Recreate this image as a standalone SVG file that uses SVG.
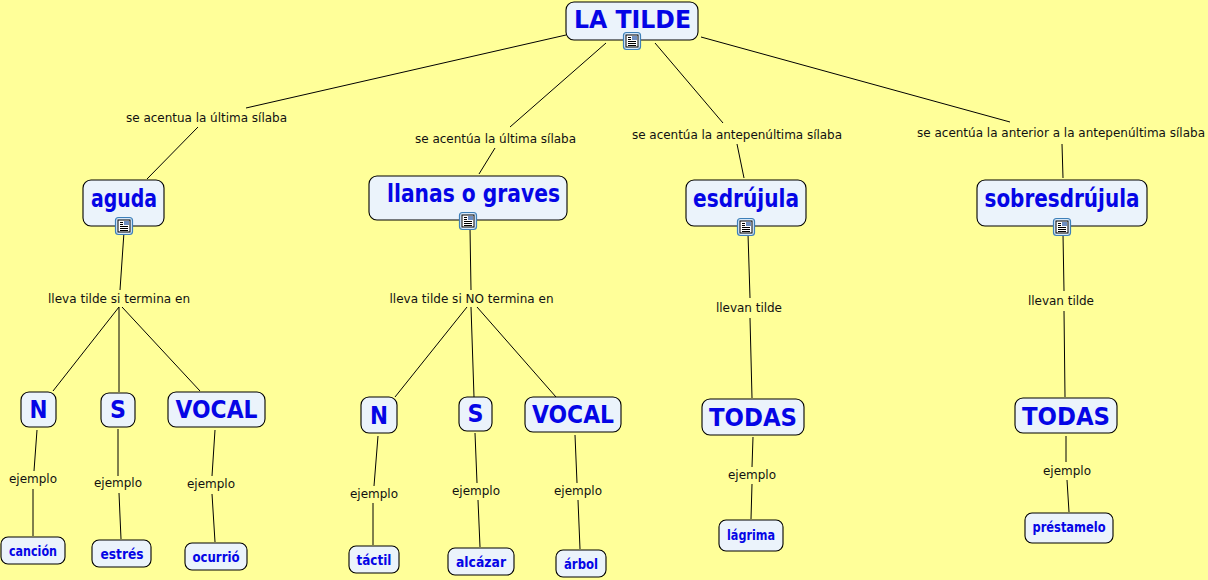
<svg xmlns="http://www.w3.org/2000/svg" width="1208" height="580" viewBox="0 0 1208 580">
<style>
.n{fill:#ebf3fb;stroke:#000;stroke-width:1.1}
.t{font-family:"DejaVu Sans",sans-serif;font-weight:bold;fill:#0505e6;text-anchor:middle}
.b{font-size:25px}.s{font-size:14px}
.l{font-family:"DejaVu Sans",sans-serif;font-size:12px;fill:#111;text-anchor:middle}
#c line{stroke:#000;stroke-width:1}
</style>
<defs>
<g id="ic">
<rect x="-8.5" y="-8.5" width="17" height="17" rx="3" fill="#d6e8fa" stroke="#3d7fb8" stroke-width="1.2"/>
<rect x="-6" y="-6" width="12" height="12" fill="#fff" stroke="#000" stroke-width="1"/>
<path d="M-4-3.500h3M-4-1.500h3M-4 .5h8M-4 2.500h8M-4 4.500h8" stroke="#000" stroke-width="1"/>
<rect x="0" y="-5" width="5" height="4" fill="#6f8fc0"/>
</g>
</defs>
<rect width="1208" height="580" fill="#ffff99"/>
<g id="c">
<line x1="566" y1="35" x2="246" y2="108"/><line x1="198" y1="127" x2="147" y2="179"/>
<line x1="606" y1="43" x2="510" y2="127"/><line x1="495" y1="148" x2="479" y2="174"/>
<line x1="655" y1="43" x2="723" y2="123"/><line x1="737" y1="144" x2="744" y2="178"/>
<line x1="701" y1="37" x2="1010" y2="122"/><line x1="1062" y1="144" x2="1063" y2="178"/>
<line x1="124" y1="232" x2="120" y2="290"/><line x1="119" y1="307" x2="53" y2="391"/><line x1="119" y1="307" x2="119" y2="392"/><line x1="122" y1="307" x2="200" y2="391"/>
<line x1="470" y1="228" x2="471" y2="290"/><line x1="467" y1="307" x2="395" y2="397"/><line x1="471" y1="307" x2="474" y2="397"/><line x1="477" y1="307" x2="556" y2="397"/>
<line x1="748" y1="234" x2="750" y2="298"/><line x1="750" y1="318" x2="752" y2="398"/>
<line x1="1063" y1="234" x2="1064" y2="291"/><line x1="1064" y1="311" x2="1065" y2="397"/>
<line x1="37" y1="430" x2="34" y2="471"/><line x1="33" y1="489" x2="33" y2="536"/>
<line x1="118" y1="429" x2="118" y2="476"/><line x1="119" y1="493" x2="121" y2="539"/>
<line x1="215" y1="430" x2="212" y2="476"/><line x1="212" y1="494" x2="215" y2="542"/>
<line x1="378" y1="436" x2="374" y2="486"/><line x1="373" y1="503" x2="373" y2="545"/>
<line x1="475" y1="433" x2="477" y2="483"/><line x1="478" y1="500" x2="480" y2="547"/>
<line x1="575" y1="435" x2="577" y2="483"/><line x1="578" y1="500" x2="580" y2="549"/>
<line x1="753" y1="437" x2="752" y2="467"/><line x1="752" y1="484" x2="751" y2="519"/>
<line x1="1066" y1="436" x2="1066" y2="462"/><line x1="1067" y1="480" x2="1069" y2="512"/>
</g>
<g id="labels">
<text class="l" x="206.500" y="122" textLength="161">se acentua la última sílaba</text>
<text class="l" x="495.500" y="143" textLength="161">se acentúa la última sílaba</text>
<text class="l" x="737" y="139" textLength="210">se acentúa la antepenúltima sílaba</text>
<text class="l" x="1061" y="137" textLength="288">se acentúa la anterior a la antepenúltima sílaba</text>
<text class="l" x="119" y="303" textLength="142">lleva tilde si termina en</text>
<text class="l" x="471.500" y="303" textLength="164">lleva tilde si NO termina en</text>
<text class="l" x="749" y="312" textLength="66">llevan tilde</text>
<text class="l" x="1061" y="305" textLength="66">llevan tilde</text>
<text class="l" x="33" y="483" textLength="48">ejemplo</text>
<text class="l" x="118" y="487" textLength="48">ejemplo</text>
<text class="l" x="211" y="488" textLength="48">ejemplo</text>
<text class="l" x="374" y="498" textLength="48">ejemplo</text>
<text class="l" x="476" y="495" textLength="48">ejemplo</text>
<text class="l" x="578" y="495" textLength="48">ejemplo</text>
<text class="l" x="752" y="479" textLength="48">ejemplo</text>
<text class="l" x="1067" y="475" textLength="48">ejemplo</text>
</g>
<g id="n-latilde"><rect class="n" x="566" y="2" width="132" height="38" rx="8"/><text class="t b" x="632.500" y="28" textLength="117" lengthAdjust="spacingAndGlyphs">LA TILDE</text><use href="#ic" x="632" y="41"/></g>
<g id="n-aguda"><rect class="n" x="83" y="180" width="81" height="46" rx="8"/><text class="t b" x="124" y="207" textLength="66" lengthAdjust="spacingAndGlyphs">aguda</text><use href="#ic" x="124" y="226"/></g>
<g id="n-llanas"><rect class="n" x="369" y="176" width="198" height="44" rx="8"/><text class="t b" x="473.500" y="202" textLength="173" lengthAdjust="spacingAndGlyphs">llanas o graves</text><use href="#ic" x="468" y="221"/></g>
<g id="n-esdrujula"><rect class="n" x="686" y="180" width="120" height="46" rx="8"/><text class="t b" x="746" y="207" textLength="106" lengthAdjust="spacingAndGlyphs">esdrújula</text><use href="#ic" x="746" y="227"/></g>
<g id="n-sobresdrujula"><rect class="n" x="977" y="180" width="170" height="46" rx="8"/><text class="t b" x="1062" y="207" textLength="155" lengthAdjust="spacingAndGlyphs">sobresdrújula</text><use href="#ic" x="1062" y="227"/></g>
<g id="n-n1"><rect class="n" x="21" y="392" width="35" height="35" rx="8"/><text class="t b" x="38.500" y="418" textLength="18" lengthAdjust="spacingAndGlyphs">N</text></g>
<g id="n-s1"><rect class="n" x="101" y="393" width="34" height="34" rx="8"/><text class="t b" x="118" y="418" textLength="16" lengthAdjust="spacingAndGlyphs">S</text></g>
<g id="n-vocal1"><rect class="n" x="168" y="392" width="97" height="35" rx="8"/><text class="t b" x="216.500" y="418" textLength="82" lengthAdjust="spacingAndGlyphs">VOCAL</text></g>
<g id="n-n2"><rect class="n" x="361" y="397" width="36" height="36" rx="8"/><text class="t b" x="379" y="424" textLength="18" lengthAdjust="spacingAndGlyphs">N</text></g>
<g id="n-s2"><rect class="n" x="459" y="397" width="33" height="34" rx="8"/><text class="t b" x="475.500" y="422" textLength="16" lengthAdjust="spacingAndGlyphs">S</text></g>
<g id="n-vocal2"><rect class="n" x="525" y="397" width="96" height="35" rx="8"/><text class="t b" x="573" y="423" textLength="82" lengthAdjust="spacingAndGlyphs">VOCAL</text></g>
<g id="n-todas1"><rect class="n" x="702" y="399" width="102" height="36" rx="8"/><text class="t b" x="753" y="426" textLength="88" lengthAdjust="spacingAndGlyphs">TODAS</text></g>
<g id="n-todas2"><rect class="n" x="1015" y="398" width="102" height="35" rx="8"/><text class="t b" x="1066" y="425" textLength="88" lengthAdjust="spacingAndGlyphs">TODAS</text></g>
<g id="n-cancion"><rect class="n" x="1" y="537" width="64" height="27" rx="7"/><text class="t s" x="33" y="556" textLength="48" lengthAdjust="spacingAndGlyphs">canción</text></g>
<g id="n-estres"><rect class="n" x="92" y="540" width="59" height="27" rx="7"/><text class="t s" x="122" y="559" textLength="43" lengthAdjust="spacingAndGlyphs">estrés</text></g>
<g id="n-ocurrio"><rect class="n" x="185" y="543" width="62" height="27" rx="7"/><text class="t s" x="216" y="562" textLength="47" lengthAdjust="spacingAndGlyphs">ocurrió</text></g>
<g id="n-tactil"><rect class="n" x="349" y="546" width="50" height="27" rx="7"/><text class="t s" x="374" y="565" textLength="35" lengthAdjust="spacingAndGlyphs">táctil</text></g>
<g id="n-alcazar"><rect class="n" x="448" y="548" width="66" height="27" rx="7"/><text class="t s" x="481" y="567" textLength="50" lengthAdjust="spacingAndGlyphs">alcázar</text></g>
<g id="n-arbol"><rect class="n" x="556" y="550" width="50" height="27" rx="7"/><text class="t s" x="581" y="569" textLength="34" lengthAdjust="spacingAndGlyphs">árbol</text></g>
<g id="n-lagrima"><rect class="n" x="719" y="520" width="64" height="31" rx="7"/><text class="t s" x="751" y="540" textLength="48" lengthAdjust="spacingAndGlyphs">lágrima</text></g>
<g id="n-prestamelo"><rect class="n" x="1025" y="513" width="88" height="30" rx="7"/><text class="t s" x="1069" y="532" textLength="73" lengthAdjust="spacingAndGlyphs">préstamelo</text></g>
</svg>
